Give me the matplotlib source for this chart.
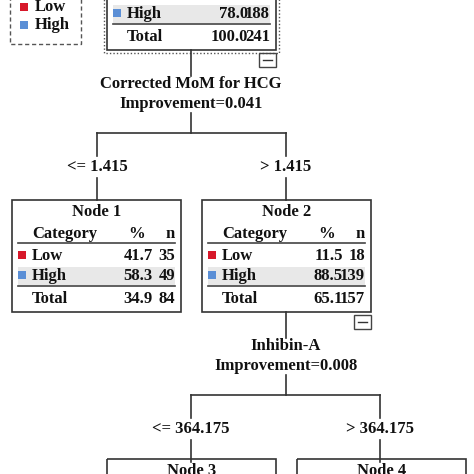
import matplotlib
matplotlib.use('Agg')
import matplotlib.pyplot as plt
from matplotlib.patches import Rectangle

categories = ['Low', 'High']
cat_colors = ['#d7182a', '#5b8fd6']

node_names = ['Node 0', 'Node 1', 'Node 2', 'Node 3', 'Node 4']
node_pct = [[22.0, 78.0], [41.7, 58.3], [11.5, 88.5], [None, None], [None, None]]
node_n = [[53, 188], [35, 49], [18, 139], [None, None], [None, None]]
node_total_pct = [100.0, 34.9, 65.1, None, None]
node_total_n = [241, 84, 157, None, None]

split_vars = ['Corrected MoM for HCG', 'Inhibin-A']
improvements = [0.041, 0.008]
split_labels = [['<= 1.415', '> 1.415'], ['<= 364.175', '> 364.175']]

FONT = dict(family='Liberation Serif', fontweight='bold', fontsize=12, color='#111111')

fig = plt.figure(figsize=(4.74, 4.74), dpi=100)
ax = fig.add_axes([0, 0, 1, 1])
ax.set_xlim(0, 474)
ax.set_ylim(474, 0)
ax.axis('off')


def draw_node(i, x0, top, minus=False, dotted=False):
    w, h = 169, 112
    ax.add_patch(Rectangle((x0, top), w, h, fill=False, lw=1.2, ec='#333333'))
    if dotted:
        ax.add_patch(Rectangle((x0 - 3, top - 3), w + 6, h + 6, fill=False, lw=1,
                               ec='#555555', ls=(0, (1, 1.5))))
    ax.text(x0 + w / 2, top + 12, node_names[i], ha='center', va='center', **FONT)
    ax.text(x0 + 20, top + 34, 'Category', ha='left', va='center', **FONT)
    ax.text(x0 + 125, top + 34, '%', ha='center', va='center', **FONT)
    ax.text(x0 + 163, top + 34, 'n', ha='right', va='center', **FONT)
    ax.plot([x0 + 6, x0 + 163], [top + 43, top + 43], color='#444444', lw=1.2)
    ax.add_patch(Rectangle((x0 + 6, top + 67), 157, 18, color='#e8e8e8', lw=0))
    for k, cat in enumerate(categories):
        y = top + 56 + 20 * k
        ax.add_patch(Rectangle((x0 + 6, y - 5), 8, 8, color=cat_colors[k], lw=0))
        ax.text(x0 + 20, y, cat, ha='left', va='center', **FONT)
        if node_pct[i][k] is not None:
            ax.text(x0 + 141, y, f'{node_pct[i][k]:.1f}', ha='right', va='center', **FONT)
            ax.text(x0 + 163, y, str(node_n[i][k]), ha='right', va='center', **FONT)
    ax.plot([x0 + 6, x0 + 163], [top + 86, top + 86], color='#444444', lw=1.2)
    ax.text(x0 + 20, top + 99, 'Total', ha='left', va='center', **FONT)
    if node_total_pct[i] is not None:
        ax.text(x0 + 141, top + 99, f'{node_total_pct[i]:.1f}', ha='right', va='center', **FONT)
        ax.text(x0 + 163, top + 99, str(node_total_n[i]), ha='right', va='center', **FONT)
    if minus:
        ax.add_patch(Rectangle((x0 + w - 17, top + h + 3), 17, 14, fill=False, lw=1, ec='#444444'))
        ax.plot([x0 + w - 13, x0 + w - 4], [top + h + 10, top + h + 10], color='#333333', lw=1)


def draw_split(j, xc, ytop, xl, xr):
    ax.plot([xc, xc], [ytop, ytop + 26], color='#333333', lw=1.2)
    ax.text(xc, ytop + 34, split_vars[j], ha='center', va='center', **FONT)
    ax.text(xc, ytop + 54, f'Improvement={improvements[j]:.3f}', ha='center', va='center', **FONT)
    ax.plot([xc, xc], [ytop + 63, ytop + 83], color='#333333', lw=1.2)
    ax.plot([xl, xr], [ytop + 83, ytop + 83], color='#333333', lw=1.2)
    for x, lab in zip([xl, xr], split_labels[j]):
        ax.plot([x, x], [ytop + 83, ytop + 106], color='#333333', lw=1.2)
        ax.text(x, ytop + 117, lab, ha='center', va='center', **FONT)
        ax.plot([x, x], [ytop + 128, ytop + 150], color='#333333', lw=1.2)


# root node, partly cut off at the top
draw_node(0, 107, -62, minus=True, dotted=True)
draw_split(0, 191, 50, 97, 286)
draw_node(1, 12, 200)
draw_node(2, 202, 200, minus=True)
draw_split(1, 286, 312, 191, 380)
draw_node(3, 107, 459)
draw_node(4, 297, 459)

# legend
ax.add_patch(Rectangle((10, -5), 71, 49, fill=False, lw=1, ec='#555555', ls=(0, (3, 2))))
for k, cat in enumerate(categories):
    y = 7 + 18 * k
    ax.add_patch(Rectangle((20, y - 4), 8, 8, color=cat_colors[k], lw=0))
    ax.text(35, y, cat, ha='left', va='center', **FONT)

fig.savefig('out.png', dpi=100)
